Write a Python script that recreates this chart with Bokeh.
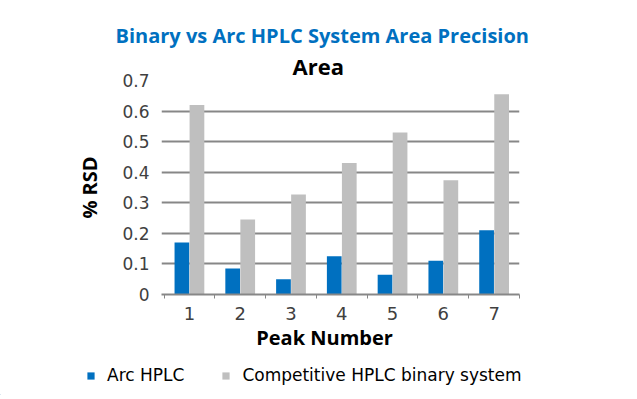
from bokeh.plotting import figure
from bokeh.layouts import column
from bokeh.models import ColumnDataSource, FixedTicker, Legend, LegendItem, Range1d, Label, Title
from bokeh.transform import dodge
from bokeh.embed import file_html
from bokeh.resources import INLINE

# ---- data ----
peaks = ["1", "2", "3", "4", "5", "6", "7"]
arc_hplc = [0.17, 0.085, 0.05, 0.125, 0.065, 0.11, 0.21]
competitive = [0.62, 0.245, 0.327, 0.43, 0.53, 0.374, 0.655]
y_ticks = [0, 0.1, 0.2, 0.3, 0.4, 0.5, 0.6, 0.7]
y_tick_labels = ["0", "0.1", "0.2", "0.3", "0.4", "0.5", "0.6", "0.7"]
series_names = ["Arc HPLC", "Competitive HPLC binary system"]
main_title = "Binary vs Arc HPLC System Area Precision"
sub_title = "Area"
x_label = "Peak Number"
y_label = "% RSD"

BLUE = "#0070C0"
GREY = "#BFBFBF"
GRID = "#878787"
TXT = "#404040"
FONT = "Open Sans"
FONT2 = "DejaVu Sans"
W = 621

# ---- main chart ----
pos = list(range(1, len(peaks) + 1))
src = ColumnDataSource(dict(x=pos, arc=arc_hplc, comp=competitive))

p = figure(width=W, height=323, output_backend="svg", toolbar_location=None,
           x_range=Range1d(0.45, 7.5), y_range=Range1d(0, 0.7),
           min_border_left=161, min_border_right=102, min_border_top=80, min_border_bottom=29,
           outline_line_color=None)
p.frame_align = False

p.title.text = main_title
p.title.align = "left"
p.title.offset = -46
p.title.standoff = 0
p.title.text_font = FONT
p.title.text_font_size = "20px"
p.title.text_font_style = "bold"
p.title.text_color = BLUE

p.add_layout(Title(text=sub_title, align="left", offset=131, standoff=0, text_font=FONT,
                   text_font_size="22px", text_font_style="bold", text_color="black"), "above")

r1 = p.vbar(x=dodge("x", -0.148, range=p.x_range), top="arc", width=0.29, source=src,
            fill_color=BLUE, line_color=None)
r2 = p.vbar(x=dodge("x", 0.148, range=p.x_range), top="comp", width=0.29, source=src,
            fill_color=GREY, line_color=None)

p.yaxis.ticker = FixedTicker(ticks=y_ticks)
p.yaxis.major_label_overrides = {t: l for t, l in zip(y_ticks, y_tick_labels)}
p.yaxis.axis_line_color = None
p.yaxis.major_tick_line_color = None
p.yaxis.major_tick_out = 0
p.yaxis.minor_tick_line_color = None
p.yaxis.major_label_text_font = FONT2
p.yaxis.major_label_text_font_size = "17px"
p.yaxis.major_label_text_color = TXT
p.yaxis.major_label_standoff = 12
p.yaxis.axis_label = y_label
p.yaxis.axis_label_text_font = FONT
p.yaxis.axis_label_text_font_size = "20px"
p.yaxis.axis_label_text_font_style = "bold"
p.yaxis.axis_label_text_color = "black"
p.yaxis.axis_label_standoff = 16

p.xaxis.ticker = FixedTicker(ticks=pos, minor_ticks=[i + 0.5 for i in range(0, len(peaks) + 1)])
p.xaxis.major_label_overrides = {x: l for x, l in zip(pos, peaks)}
p.xaxis.axis_line_color = GRID
p.xaxis.axis_line_width = 2
p.xaxis.major_tick_line_color = None
p.xaxis.major_tick_out = 0
p.xaxis.minor_tick_line_color = GRID
p.xaxis.minor_tick_out = 4
p.xaxis.minor_tick_in = 0
p.xaxis.minor_tick_line_width = 1
p.xaxis.major_label_text_font = FONT2
p.xaxis.major_label_text_font_size = "18px"
p.xaxis.major_label_text_color = TXT
p.xaxis.major_label_standoff = 8

p.xgrid.grid_line_color = None
p.ygrid.ticker = FixedTicker(ticks=y_ticks)
p.ygrid.grid_line_color = GRID
p.ygrid.grid_line_width = 2

# ---- bottom strip: x-axis title and legend ----
H2 = 72
p2 = figure(width=W, height=H2, output_backend="svg", toolbar_location=None,
            x_range=Range1d(0, W), y_range=Range1d(0, H2),
            x_axis_location=None, y_axis_location=None,
            min_border_left=0, min_border_right=0, min_border_top=0, min_border_bottom=0,
            outline_line_color=None)
p2.grid.visible = False
p2.title.visible = False
p2.frame_align = False

p2.add_layout(Label(x=324, y=H2 - 14, text=x_label, text_align="center",
                    text_baseline="middle", text_font=FONT, text_font_size="20px",
                    text_font_style="bold", text_color="black"))
d1 = p2.vbar(x=[-100], top=[1], width=1, fill_color=BLUE, line_color=None)
d2 = p2.vbar(x=[-100], top=[1], width=1, fill_color=GREY, line_color=None)
legend = Legend(items=[LegendItem(label=series_names[0], renderers=[d1]),
                       LegendItem(label=series_names[1], renderers=[d2])],
                orientation="horizontal", location=(86, 10), border_line_color=None,
                background_fill_alpha=0, padding=0, margin=0, spacing=37,
                glyph_width=9, glyph_height=9, label_standoff=12,
                label_text_font=FONT2, label_text_font_size="17px", label_text_color="black")
p2.add_layout(legend, "center")

layout = column(p, p2, spacing=0)
open("out.html", "w").write(file_html(layout, INLINE))
